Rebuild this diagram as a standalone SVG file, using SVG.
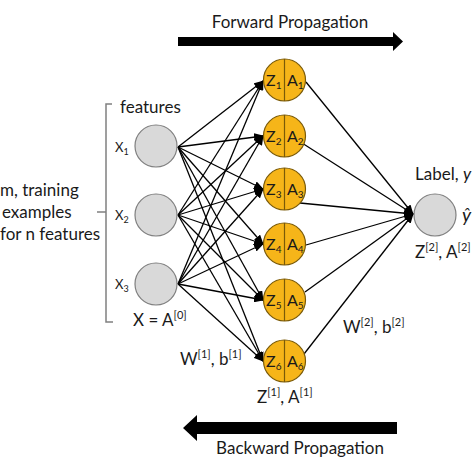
<svg xmlns="http://www.w3.org/2000/svg" width="474" height="474" viewBox="0 0 474 474">
<style>
text{font-family:Lato,"Open Sans","Liberation Sans",sans-serif;fill:#1a1a1a}
.lbl{font-size:17px}
.sm{font-size:13px}
.hz{font-size:16px}
.in{fill:#d9d9d9;stroke:#7f7f7f;stroke-width:1.2}
.hid{fill:#f6b519;stroke:#7a5a08;stroke-width:1.2}
.div{stroke:#7a5a08;stroke-width:1.2}
.con line{stroke:#000;stroke-width:1.3;marker-end:url(#ah)}
.br{fill:none;stroke:#808080;stroke-width:1.5}
</style>
<defs>
<marker id="ah" markerUnits="userSpaceOnUse" markerWidth="10" markerHeight="8" refX="9" refY="4" orient="auto">
<path d="M0,0 L10,4 L0,8 z" fill="#000"/>
</marker>
</defs>
<rect width="474" height="474" fill="#fff"/>

<g id="forward">
<text class="lbl" x="290" y="28" text-anchor="middle">Forward Propagation</text>
<path d="M178,37 H393 V32 L403,41.5 L393,51 V46 H178 z" fill="#000"/>
</g>
<g id="backward">
<path d="M397,422 H197 V415 L183,428 L197,441 V434 H397 z" fill="#000"/>
<text class="lbl" x="300" y="454" text-anchor="middle">Backward Propagation</text>
</g>

<g id="bracket">
<path class="br" d="M112,104 H106 V322 H113 M106,212 H97"/>
</g>
<g id="left-text">
<text class="lbl" x="0" y="196">m, training</text>
<text class="lbl" x="2" y="218">examples</text>
<text class="lbl" x="0" y="240">for n features</text>
<text class="lbl" x="120" y="113">features</text>
</g>

<g class="con" id="connectors">
<line x1="178" y1="147" x2="263" y2="81"/>
<line x1="178" y1="147" x2="263" y2="136"/>
<line x1="178" y1="147" x2="263" y2="189"/>
<line x1="178" y1="147" x2="263" y2="244"/>
<line x1="178" y1="147" x2="263" y2="300"/>
<line x1="178" y1="147" x2="263" y2="361"/>
<line x1="178" y1="215" x2="263" y2="81"/>
<line x1="178" y1="215" x2="263" y2="136"/>
<line x1="178" y1="215" x2="263" y2="189"/>
<line x1="178" y1="215" x2="263" y2="244"/>
<line x1="178" y1="215" x2="263" y2="300"/>
<line x1="178" y1="215" x2="263" y2="361"/>
<line x1="178" y1="284" x2="263" y2="81"/>
<line x1="178" y1="284" x2="263" y2="136"/>
<line x1="178" y1="284" x2="263" y2="189"/>
<line x1="178" y1="284" x2="263" y2="244"/>
<line x1="178" y1="284" x2="263" y2="300"/>
<line x1="178" y1="284" x2="263" y2="361"/>
<line x1="306" y1="82" x2="413" y2="214"/>
<line x1="302" y1="143" x2="413" y2="214"/>
<line x1="300" y1="203" x2="413" y2="214"/>
<line x1="306" y1="245" x2="413" y2="214"/>
<line x1="305" y1="292" x2="413" y2="214"/>
<line x1="304" y1="354" x2="413" y2="214"/>
</g>

<g id="x1"><circle class="in" cx="156" cy="146" r="21"/><text class="sm" x="115" y="152">X<tspan font-size="9" dy="3">1</tspan></text></g>
<g id="x2"><circle class="in" cx="156" cy="215" r="21"/><text class="sm" x="115" y="220">X<tspan font-size="9" dy="3">2</tspan></text></g>
<g id="x3"><circle class="in" cx="156" cy="284" r="21"/><text class="sm" x="115" y="289">X<tspan font-size="9" dy="3">3</tspan></text></g>
<text class="lbl" id="xa0" x="133" y="326">X = A<tspan font-size="11" dy="-7">[0]</tspan></text>

<g id="h1"><circle class="hid" cx="284.5" cy="80" r="21"/><line class="div" x1="284.5" y1="59" x2="284.5" y2="101"/><text class="hz" x="266" y="86">Z<tspan font-size="10" dy="3">1</tspan></text><text class="hz" x="287" y="86">A<tspan font-size="10" dy="3">1</tspan></text></g>
<g id="h2"><circle class="hid" cx="284.5" cy="136" r="21"/><line class="div" x1="284.5" y1="115" x2="284.5" y2="157"/><text class="hz" x="266" y="142">Z<tspan font-size="10" dy="3">2</tspan></text><text class="hz" x="287" y="142">A<tspan font-size="10" dy="3">2</tspan></text></g>
<g id="h3"><circle class="hid" cx="284.5" cy="189" r="21"/><line class="div" x1="284.5" y1="168" x2="284.5" y2="210"/><text class="hz" x="266" y="195">Z<tspan font-size="10" dy="3">3</tspan></text><text class="hz" x="287" y="195">A<tspan font-size="10" dy="3">3</tspan></text></g>
<g id="h4"><circle class="hid" cx="284.5" cy="244" r="21"/><line class="div" x1="284.5" y1="223" x2="284.5" y2="265"/><text class="hz" x="266" y="250">Z<tspan font-size="10" dy="3">4</tspan></text><text class="hz" x="287" y="250">A<tspan font-size="10" dy="3">4</tspan></text></g>
<g id="h5"><circle class="hid" cx="284.5" cy="300" r="21"/><line class="div" x1="284.5" y1="279" x2="284.5" y2="321"/><text class="hz" x="266" y="306">Z<tspan font-size="10" dy="3">5</tspan></text><text class="hz" x="287" y="306">A<tspan font-size="10" dy="3">5</tspan></text></g>
<g id="h6"><circle class="hid" cx="284.5" cy="361" r="21"/><line class="div" x1="284.5" y1="340" x2="284.5" y2="382"/><text class="hz" x="266" y="367">Z<tspan font-size="10" dy="3">6</tspan></text><text class="hz" x="287" y="367">A<tspan font-size="10" dy="3">6</tspan></text></g>

<g id="out"><circle class="in" cx="435" cy="215" r="21"/></g>
<text class="lbl" x="415" y="180">Label, <tspan font-style="italic">y</tspan></text>
<text x="462" y="222" font-size="19" font-style="italic" font-family="Liberation Serif,serif">ŷ</text>
<text class="lbl" x="415" y="258">Z<tspan font-size="11" dy="-7">[2]</tspan><tspan dy="7">, A</tspan><tspan font-size="11" dy="-7">[2]</tspan></text>
<text class="lbl" x="343" y="333">W<tspan font-size="11" dy="-7">[2]</tspan><tspan dy="7">, b</tspan><tspan font-size="11" dy="-7">[2]</tspan></text>
<text class="lbl" x="180" y="365">W<tspan font-size="11" dy="-7">[1]</tspan><tspan dy="7">, b</tspan><tspan font-size="11" dy="-7">[1]</tspan></text>
<text class="lbl" x="257" y="403">Z<tspan font-size="11" dy="-7">[1]</tspan><tspan dy="7">, A</tspan><tspan font-size="11" dy="-7">[1]</tspan></text>
</svg>
